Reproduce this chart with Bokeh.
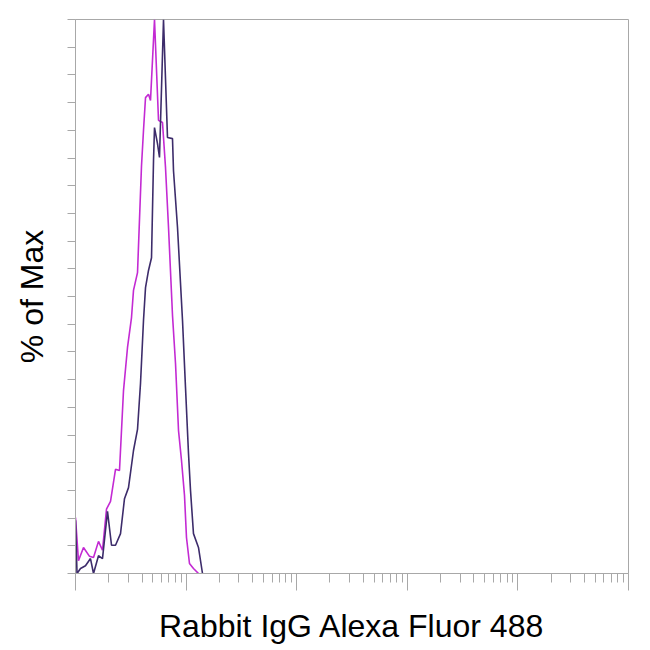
from bokeh.plotting import figure
from bokeh.models import FixedTicker, CustomJSTickFormatter, Range1d
from bokeh.embed import file_html
from bokeh.resources import INLINE

# Histogram of the two samples (x: fluorescence, log scale; y: % of max)
magenta_x = [1.0, 1.064, 1.181, 1.339, 1.455, 1.614, 1.754, 1.906, 2.073, 2.300,
             2.499, 2.716, 2.953, 3.209, 3.345, 3.636, 3.952, 4.120, 4.296, 4.571,
             4.766, 5.180, 5.630, 6.118, 6.513, 6.933, 7.534, 8.022, 8.540, 9.088,
             9.672, 10.08, 10.73, 11.66, 12.94]
magenta_y = [10.1, 2.3, 4.7, 3.1, 2.9, 5.8, 4.2, 11.6, 13.0, 18.8,
             18.6, 33.0, 40.8, 46.2, 51.1, 54.3, 73.6, 80.0, 85.9, 86.5,
             85.4, 100.0, 81.8, 81.4, 73.3, 62.5, 46.6, 37.9, 25.8, 20.4,
             14.1, 6.5, 1.8, 0.9, 0.0]

dark_x = [1.0, 1.032, 1.110, 1.231, 1.366, 1.455, 1.614, 1.754, 1.947, 2.117,
          2.300, 2.553, 2.773, 3.015, 3.345, 3.636, 3.870, 4.120, 4.296, 4.571,
          4.867, 5.074, 5.180, 5.512, 5.747, 6.248, 6.788, 7.534, 7.693, 8.359,
          9.279, 9.876, 10.51, 10.96, 11.66, 12.94, 14.07]
dark_y = [9.6, 0.0, 0.9, 1.4, 2.7, 0.0, 3.2, 2.7, 11.2, 5.1,
          5.1, 7.2, 13.5, 15.5, 22.2, 26.0, 34.3, 45.7, 51.6, 54.7,
          57.0, 74.5, 80.5, 77.6, 75.1, 100.0, 78.7, 78.5, 72.7, 62.5,
          45.7, 33.6, 21.7, 15.0, 7.2, 4.7, 0.0]

x_major_ticks = [1, 10, 100, 1000, 10000, 100000]
x_minor_ticks = [m * d for d in [1, 10, 100, 1000, 10000] for m in range(2, 10)]
y_ticks = [0, 5, 10, 15, 20, 25, 30, 35, 40, 45, 50, 55, 60, 65, 70, 75, 80, 85, 90, 95, 100]

x_label = "Rabbit IgG Alexa Fluor 488"
y_label = "% of Max"

GRAY = "#a8a8a8"
FONT = "Liberation Sans"

p = figure(width=650, height=650, x_axis_type="log",
           x_range=Range1d(1, 100000), y_range=Range1d(0, 100),
           output_backend="svg", toolbar_location=None,
           min_border_left=75, min_border_right=22,
           min_border_top=19, min_border_bottom=77)

p.line(magenta_x, magenta_y, line_color="#c32ad3", line_width=1.6)
p.line(dark_x, dark_y, line_color="#3d2c6b", line_width=1.6)

p.grid.visible = False
p.outline_line_color = GRAY
p.outline_line_width = 1
p.background_fill_color = "white"
p.border_fill_color = "white"

empty = CustomJSTickFormatter(code="return ''")

xa = p.xaxis[0]
xa.ticker = FixedTicker(ticks=x_major_ticks, minor_ticks=x_minor_ticks)
xa.formatter = empty
xa.axis_line_color = GRAY
xa.major_tick_line_color = GRAY
xa.minor_tick_line_color = GRAY
xa.major_tick_in = 0
xa.major_tick_out = 17
xa.minor_tick_in = 0
xa.minor_tick_out = 9
xa.major_label_standoff = 0
xa.axis_label = x_label
xa.axis_label_text_font = FONT
xa.axis_label_text_font_size = "32px"
xa.axis_label_text_font_style = "normal"
xa.axis_label_text_color = "black"
xa.axis_label_standoff = 17

ya = p.yaxis[0]
ya.ticker = FixedTicker(ticks=y_ticks)
ya.formatter = empty
ya.axis_line_color = GRAY
ya.major_tick_line_color = GRAY
ya.minor_tick_line_color = None
ya.major_tick_in = 0
ya.major_tick_out = 8
ya.major_label_standoff = 0
ya.axis_label = y_label
ya.axis_label_text_font = FONT
ya.axis_label_text_font_size = "32px"
ya.axis_label_text_font_style = "normal"
ya.axis_label_text_color = "black"
ya.axis_label_standoff = 18

open("out.html", "w").write(file_html(p, INLINE))
